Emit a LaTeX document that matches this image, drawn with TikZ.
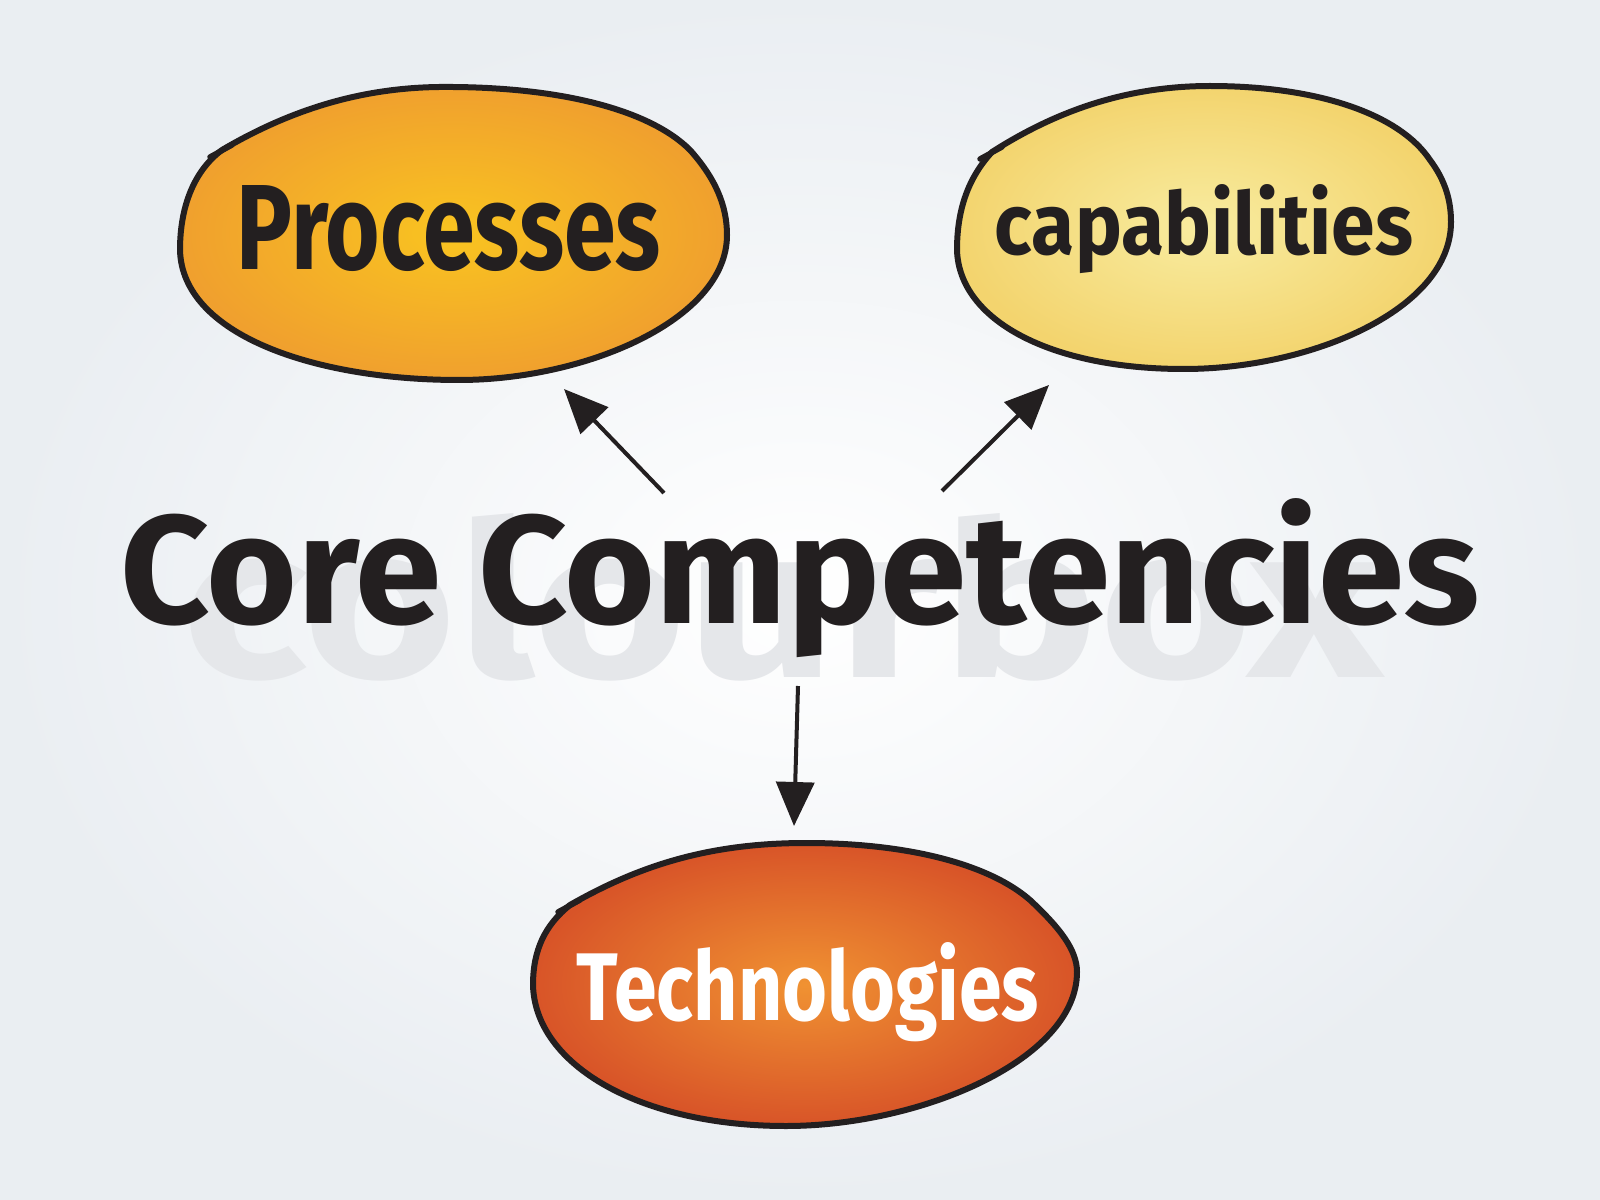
\documentclass[tikz,border=0pt]{standalone}
\usepackage{fontspec}
\newfontfamily\hand{Fira Sans}
\usetikzlibrary{arrows.meta}
\definecolor{ink}{RGB}{35,31,32}
\definecolor{bgedge}{RGB}{234,238,242}
\definecolor{wm}{RGB}{229,231,234}
\definecolor{procin}{RGB}{249,196,32}
\definecolor{procout}{RGB}{240,160,46}
\definecolor{capin}{RGB}{248,236,160}
\definecolor{capout}{RGB}{243,212,110}
\definecolor{techin}{RGB}{240,146,50}
\definecolor{techout}{RGB}{216,84,40}
\tikzset{
  blob/.style={draw=ink, line width=0.6mm, line join=round},
  tick/.style={draw=ink, line width=0.55mm, line cap=round},
  lbl/.style={inner sep=0pt, anchor=base, text=ink},
  conn/.style={draw=ink, line width=0.4mm, -{Triangle[length=4.4mm,width=3.8mm]}},
}
\begin{document}
\begin{tikzpicture}[x=0.1mm,y=-0.1mm]
\useasboundingbox (0,0) rectangle (1600,1200);
\shade[inner color=white, outer color=bgedge] (0,0) rectangle (1600,1200);

% watermark
\node[lbl, text=wm] (wmark) at (783,677) {\resizebox{120mm}{16.4mm}{\hand\bfseries colourbox}};

% Processes blob
\shadedraw[blob, inner color=procin, outer color=procout]
 (180,250) .. controls (180,205) and (195,170) .. (222,150)
 .. controls (290,110) and (360,88) .. (439,87)
 .. controls (560,86) and (650,110) .. (690,150)
 .. controls (715,178) and (727,205) .. (727,235)
 .. controls (727,320) and (585,380) .. (459,380)
 .. controls (315,380) and (182,335) .. (180,250) -- cycle;
\draw[tick] (232,145) -- (210,157);
\node[lbl] (proc) at (449,270) {\resizebox{42.4mm}{8.4mm}{\hand\bfseries Processes}};

% Capabilities blob
\shadedraw[blob, inner color=capin, outer color=capout]
 (957,250) .. controls (957,210) and (968,178) .. (992,152)
 .. controls (1050,115) and (1120,86) .. (1210,86)
 .. controls (1320,86) and (1400,115) .. (1430,160)
 .. controls (1445,180) and (1451,200) .. (1451,222)
 .. controls (1451,310) and (1310,369) .. (1184,369)
 .. controls (1050,369) and (959,320) .. (957,250) -- cycle;
\draw[tick] (1002,147) -- (980,159);
\node[lbl] (capa) at (1204,255) {\resizebox{41.8mm}{7.0mm}{\hand\bfseries capabilities}};

% Technologies blob
\shadedraw[blob, inner color=techin, outer color=techout]
 (533,985) .. controls (533,950) and (545,925) .. (570,905)
 .. controls (640,865) and (710,843) .. (806,843)
 .. controls (910,843) and (990,865) .. (1030,900)
 .. controls (1060,928) and (1077,950) .. (1077,972)
 .. controls (1077,1060) and (920,1126) .. (786,1126)
 .. controls (640,1126) and (535,1065) .. (533,985) -- cycle;
\draw[tick] (580,900) -- (558,912);
\node[lbl, text=white] (tech) at (808,1020) {\resizebox{46.2mm}{7.8mm}{\hand\bfseries Technologies}};

% central title
\node[lbl] (core) at (800,623) {\resizebox{136mm}{12.5mm}{\hand\bfseries Core Competencies}};

% connectors
\coordinate (a1s) at (664,493); \coordinate (a1e) at (564,389);
\coordinate (a2s) at (942,491); \coordinate (a2e) at (1049,385);
\coordinate (a3s) at (798,686); \coordinate (a3e) at (794,826);
\draw[conn] (a1s) -- (a1e);
\draw[conn] (a2s) -- (a2e);
\draw[conn] (a3s) -- (a3e);
\end{tikzpicture}
\end{document}
